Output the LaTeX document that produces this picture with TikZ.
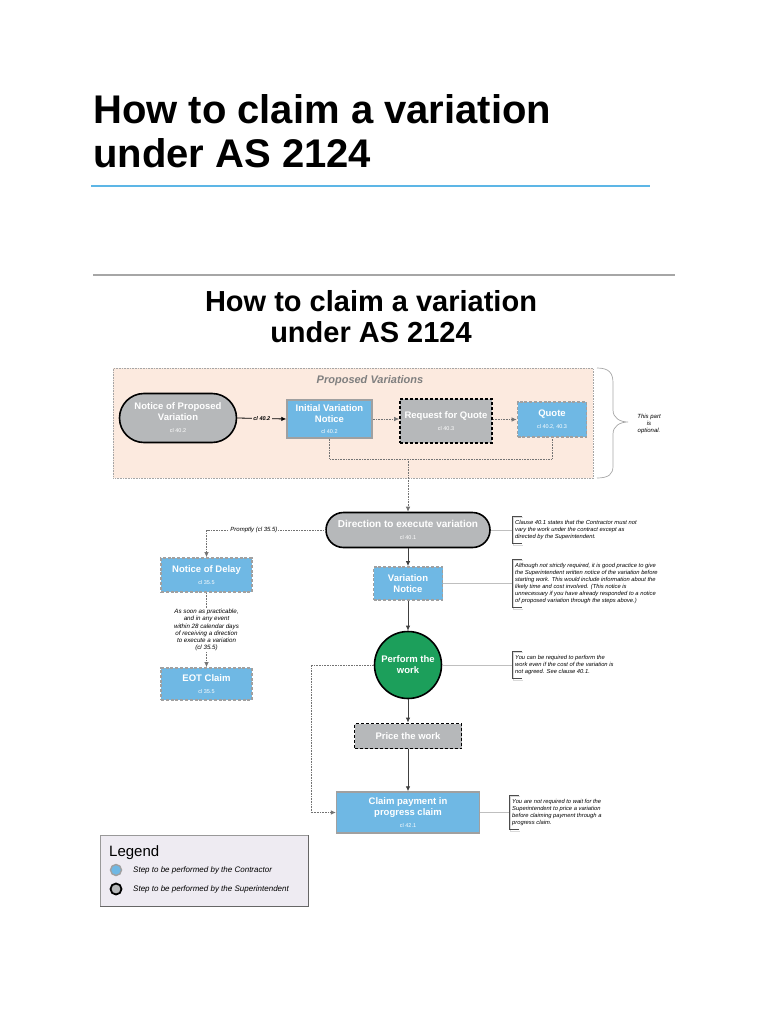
\documentclass[tikz,border=0pt]{standalone}
\usepackage{fontspec}
\setmainfont{Liberation Sans}
\usetikzlibrary{arrows.meta,shapes.misc}
\definecolor{cblue}{HTML}{6FB8E4}
\definecolor{cborder}{HTML}{A0A0A0}
\definecolor{sgray}{HTML}{B6B8BA}
\definecolor{peach}{HTML}{FCEADF}
\definecolor{wgreen}{HTML}{1C9F5B}
\definecolor{legfill}{HTML}{EEEBF2}
\definecolor{rulblue}{HTML}{5DB6E6}
\definecolor{ptitle}{HTML}{7F7F7F}
\newcommand{\clsmall}[1]{{\fontsize{5.5}{6}\selectfont\mdseries #1}}
\begin{document}
\begin{tikzpicture}[x=1pt,y=-1pt,
  boxtext/.style={text=white, font=\fontsize{9.5}{11}\selectfont\bfseries, align=center, inner sep=1pt},
  cbox/.style={boxtext, rectangle, fill=cblue, draw=cborder, line width=1.4pt},
  cdash/.style={cbox, line width=1.8pt, dash pattern=on 3pt off 1.8pt},
  sbox/.style={boxtext, rectangle, fill=sgray, draw=black, line width=1.6pt},
  sdash/.style={sbox, line width=1.8pt, dash pattern=on 3pt off 2pt},
  stad/.style={sbox, rounded rectangle},
  arr/.style={-{Latex[length=5pt,width=4.5pt]}},
  mainline/.style={arr, draw=black!75, line width=0.8pt},
  dotline/.style={draw=black!55, densely dotted, line width=0.6pt},
  noteline/.style={draw=black!25, line width=0.6pt},
  notetext/.style={anchor=west, align=left, inner xsep=3pt, inner ysep=4pt, font=\fontsize{5.8}{7}\selectfont\itshape},
  bracketline/.style={draw=black!70, line width=0.9pt},
  smallit/.style={font=\fontsize{6.2}{7.2}\selectfont\itshape, align=center, inner sep=1pt}
]
\useasboundingbox (0,0) rectangle (768,1024);

% ---- page title ----
\node[anchor=base west, inner sep=0, font=\fontsize{40}{44}\selectfont\bfseries] (t1) at (93,124) {How to claim a variation};
\node[anchor=base west, inner sep=0, font=\fontsize{40}{44}\selectfont\bfseries] (t2) at (93,168) {under AS 2124};
\draw[rulblue, line width=1.6pt] (91,186) -- (650,186);
\draw[black!35, line width=1.8pt] (93,275) -- (675,275);

% ---- diagram title ----
\node[anchor=base, inner sep=0, font=\fontsize{29}{32}\selectfont\bfseries] (s1) at (371,311) {How to claim a variation};
\node[anchor=base, inner sep=0, font=\fontsize{29}{32}\selectfont\bfseries] (s2) at (371,342) {under AS 2124};

% ---- proposed variations panel ----
\node[anchor=north west, fill=peach, draw=black!35, densely dotted, line width=0.6pt, minimum width=480pt, minimum height=110pt] (pv) at (113,368) {};
\node[font=\fontsize{11}{12}\selectfont\bfseries\itshape, text=ptitle, inner sep=0] (pvt) at (370,381) {Proposed Variations};

\node[stad, minimum width=119pt, minimum height=49pt] (npv) at (178,418) {Notice of Proposed\\Variation\\[1pt]\clsmall{cl 40.2}};
\node[cbox, minimum width=85pt, minimum height=38pt] (ivn) at (329.5,419) {Initial Variation\\Notice\\[0pt]\clsmall{cl 40.2}};
\node[sdash, minimum width=92pt, minimum height=44pt] (rfq) at (446,421) {Request for Quote\\[1pt]\clsmall{cl 40.3}};
\node[cdash, minimum width=69pt, minimum height=35pt] (quote) at (552,419.5) {Quote\\[1pt]\clsmall{cl 40.2, 40.3}};

\draw[mainline, draw=black] (npv.east) -- (ivn.west) node[midway, fill=peach, inner sep=1.5pt, font=\fontsize{5.5}{6}\selectfont\bfseries\itshape] {cl 40.2};
\draw[dotline, arr] (ivn.east) -- (ivn.east -| rfq.west);
\draw[dotline, arr] (rfq.east |- quote.west) -- (quote.west);
\coordinate (jn) at (408,459);
\draw[dotline] (ivn.south) |- (jn) -| (quote.south);

% brace and optional note
\draw[black!35, line width=0.7pt] (597,368) .. controls (609,368) and (613,373) .. (613,383) -- (613,410)
  .. controls (613,418) and (620,422) .. (628,422) .. controls (620,422) and (613,426) .. (613,434)
  -- (613,466) .. controls (613,474) and (609,478) .. (597,478);
\node[font=\fontsize{6}{7}\selectfont\itshape, align=center, inner sep=0] (opt) at (649,424) {This part\\is\\optional.};

% ---- direction ----
\node[stad, font=\fontsize{10}{11.5}\selectfont\bfseries, minimum width=166pt, minimum height=35pt] (dir) at (408,530) {Direction to execute variation\\[0pt]\clsmall{cl 40.1}};
\draw[dotline, arr] (jn) -- (dir.north);

\node[notetext] (n1) at (512,530) {Clause 40.1 states that the Contractor must not\\vary the work under the contract except as\\directed by the Superintendent.};
\draw[noteline] (dir.east) -- (n1.west);

\node[cdash, minimum width=69pt, minimum height=33pt] (vn) at (408,583.5) {Variation\\Notice};
\draw[mainline] (dir.south) -- (vn.north);

\node[notetext] (n2) at (512,583.5) {Although not strictly required, it is good practice to give\\the Superintendent written notice of the variation before\\starting work. This would include information about the\\likely time and cost involved. (This notice is\\unnecessary if you have already responded to a notice\\of proposed variation through the steps above.)};
\draw[noteline] (vn.east) -- (n2.west);

% ---- delay branch ----
\node[cdash, minimum width=91pt, minimum height=34pt] (nod) at (206.5,575) {Notice of Delay\\[1pt]\clsmall{cl 35.5}};
\draw[dotline, arr] (dir.west) -| (nod.north) node[pos=0.3, fill=white, inner sep=1pt, font=\fontsize{6}{7}\selectfont\itshape] {Promptly (cl 35.5)};

\node[smallit] (asap) at (206.5,630) {As soon as practicable,\\and in any event\\within 28 calendar days\\of receiving a direction\\to execute a variation\\(cl 35.5)};
\node[cdash, minimum width=91pt, minimum height=32pt] (eot) at (206.5,684) {EOT Claim\\[1pt]\clsmall{cl 35.5}};
\draw[dotline] (nod.south) -- (asap.north);
\draw[dotline, arr] (asap.south) -- (eot.north);

% ---- perform / price / claim ----
\node[circle, boxtext, fill=wgreen, draw=black, line width=1.6pt, minimum size=67pt] (pw) at (408,665) {Perform the\\work};
\draw[mainline] (vn.south) -- (pw.north);

\node[notetext] (n3) at (512,665) {You can be required to perform the\\work even if the cost of the variation is\\not agreed. See clause 40.1.};
\draw[noteline] (pw.east) -- (n3.west);

\node[sdash, minimum width=107pt, minimum height=25pt] (price) at (408,736) {Price the work};
\draw[mainline] (pw.south) -- (price.north);

\node[cbox, minimum width=143pt, minimum height=41pt] (claim) at (408,812.5) {Claim payment in\\progress claim\\[1pt]\clsmall{cl 42.1}};
\draw[mainline] (price.south) -- (claim.north);

\node[notetext] (n4) at (509,812.5) {You are not required to wait for the\\Superintendent to price a variation\\before claiming payment through a\\progress claim.};
\draw[noteline] (claim.east) -- (n4.west);

\coordinate (lc) at (311,665);
\draw[dotline, arr] (pw.west) -- (lc) |- (claim.west);

% brackets of the notes
\foreach \n in {n1,n2,n3,n4}{
  \draw[black!15, line width=1.2pt] ([xshift=11pt,yshift=-1.2pt]\n.north west) -- ([xshift=1.2pt,yshift=-1.2pt]\n.north west) -- ([xshift=1.2pt,yshift=-1.2pt]\n.south west) -- ([xshift=11pt,yshift=-1.2pt]\n.south west);
  \draw[bracketline] ([xshift=10pt]\n.north west) -- (\n.north west) -- (\n.south west) -- ([xshift=10pt]\n.south west);
}

% ---- legend ----
\node[anchor=north west, fill=legfill, draw=black!40, line width=0.6pt, minimum width=208pt, minimum height=71pt] (leg) at (100,835) {};
\draw[black!60, line width=1pt] (leg.north east) -- (leg.south east) -- (leg.south west);
\node[anchor=base west, inner sep=0, font=\fontsize{15}{17}\selectfont] (legt) at (109,856) {Legend};
\node[circle, fill=cblue, draw=cborder, line width=1.4pt, minimum size=11pt, inner sep=0] (lc1) at (116,870) {};
\node[circle, fill=sgray, draw=black, line width=1.8pt, minimum size=11pt, inner sep=0] (lc2) at (116,889) {};
\node[anchor=west, inner sep=0, font=\fontsize{8}{9}\selectfont\itshape] (lt1) at (133,870) {Step to be performed by the Contractor};
\node[anchor=west, inner sep=0, font=\fontsize{8}{9}\selectfont\itshape] (lt2) at (133,889) {Step to be performed by the Superintendent};
\end{tikzpicture}
\end{document}
